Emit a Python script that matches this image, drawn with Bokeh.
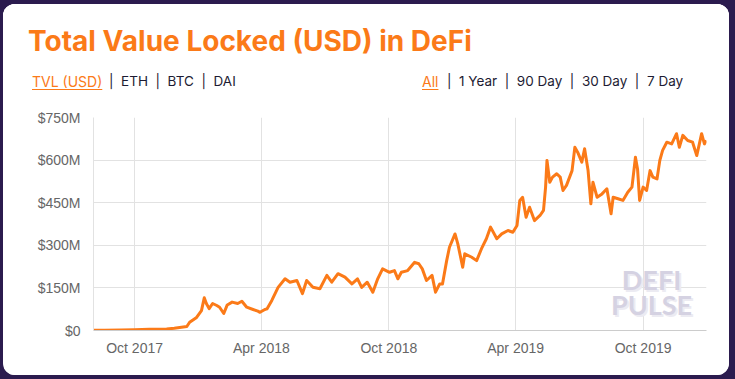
import pandas as pd
from bokeh.plotting import figure
from bokeh.layouts import column
from bokeh.models import Range1d, FixedTicker, DatetimeTickFormatter, Label, Div
from bokeh.embed import file_html
from bokeh.resources import INLINE

# ---- data ($ millions) ----
dates = [
    "2017-08-03", "2017-08-19", "2017-09-12", "2017-10-01", "2017-10-22", "2017-11-16",
    "2017-11-27", "2017-12-15", "2017-12-19", "2017-12-29", "2018-01-05", "2018-01-09",
    "2018-01-12", "2018-01-16", "2018-01-21", "2018-01-27", "2018-01-31", "2018-02-06",
    "2018-02-11", "2018-02-18", "2018-02-26", "2018-03-04", "2018-03-11", "2018-03-20",
    "2018-03-27", "2018-03-30", "2018-04-06", "2018-04-09", "2018-04-16", "2018-04-25",
    "2018-05-05", "2018-05-12", "2018-05-22", "2018-05-30", "2018-06-05", "2018-06-14",
    "2018-06-24", "2018-07-04", "2018-07-11", "2018-07-20", "2018-07-30", "2018-08-09",
    "2018-08-17", "2018-08-23", "2018-08-31", "2018-09-08", "2018-09-15", "2018-09-22",
    "2018-10-02", "2018-10-09", "2018-10-14", "2018-10-19", "2018-10-28", "2018-11-07",
    "2018-11-13", "2018-11-18", "2018-11-24", "2018-12-02", "2018-12-07", "2018-12-13",
    "2018-12-17", "2018-12-23", "2018-12-27", "2019-01-04", "2019-01-08", "2019-01-15",
    "2019-01-18", "2019-01-28", "2019-02-04", "2019-02-11", "2019-02-18", "2019-02-24",
    "2019-03-05", "2019-03-12", "2019-03-21", "2019-03-28", "2019-04-03", "2019-04-07",
    "2019-04-11", "2019-04-16", "2019-04-21", "2019-04-28", "2019-05-06", "2019-05-11",
    "2019-05-14", "2019-05-16", "2019-05-20", "2019-05-24", "2019-05-30", "2019-06-04",
    "2019-06-08", "2019-06-13", "2019-06-21", "2019-06-25", "2019-06-29", "2019-07-05",
    "2019-07-09", "2019-07-14", "2019-07-18", "2019-07-21", "2019-07-27", "2019-08-03",
    "2019-08-10", "2019-08-16", "2019-08-19", "2019-08-26", "2019-09-02", "2019-09-09",
    "2019-09-15", "2019-09-20", "2019-09-23", "2019-09-26", "2019-10-01", "2019-10-06",
    "2019-10-11", "2019-10-15", "2019-10-21", "2019-10-25", "2019-10-29", "2019-11-04",
    "2019-11-11", "2019-11-18", "2019-11-22", "2019-11-27", "2019-12-04", "2019-12-11",
    "2019-12-17", "2019-12-24", "2019-12-28", "2019-12-31",
]
tvl_musd = [
    1, 1, 2, 3, 4, 5,
    8, 14, 29, 46, 70, 115,
    95, 77, 95, 88, 82, 60,
    90, 100, 95, 103, 82, 74,
    68, 64, 74, 76, 106, 152,
    182, 170, 176, 130, 176, 152,
    147, 194, 170, 200, 188, 164,
    182, 152, 170, 135, 182, 217,
    205, 211, 182, 205, 211, 240,
    235, 217, 176, 194, 135, 164,
    164, 246, 293, 340, 305, 223,
    270, 258, 246, 288, 323, 364,
    323, 340, 352, 346, 370, 458,
    469, 399, 434, 387, 405, 423,
    505, 599, 522, 540, 552, 540,
    493, 511, 563, 645, 628, 593,
    640, 563, 446, 522, 469, 481,
    499, 411, 469, 464, 458, 487,
    505, 610, 569, 458, 505, 493,
    563, 540, 534, 599, 634, 663,
    657, 693, 645, 687, 669, 663,
    616, 693, 657, 669,
]
x_tick_dates = ["2017-10-01", "2018-04-01", "2018-10-01", "2019-04-01", "2019-10-01"]
y_ticks = [0, 150, 300, 450, 600, 750]
y_tick_labels = ["$0", "$150M", "$300M", "$450M", "$600M", "$750M"]
title_text = "Total Value Locked (USD) in DeFi"
metric_tabs = ["TVL (USD)", "ETH", "BTC", "DAI"]
period_tabs = ["All", "1 Year", "90 Day", "30 Day", "7 Day"]
watermark = ["DEFI", "PULSE"]

ORANGE = "#fb7a18"
DARK = "#1d1b33"
GREY = "#666666"
PAGE_BG = "#2b1b4e"

W = 726
HH = 100            # header height
H = 271             # chart height
BL, BR, BT, BB = 90, 23, 13, 45

# ---------------- header (title + tabs) as HTML text ----------------
def span(text, left, top, size, color, weight=400, underline=False):
    deco = "text-decoration:underline;text-underline-offset:2px;" if underline else ""
    return ('<span style="position:absolute;left:%dpx;top:%dpx;font-family:Inter;'
            'font-size:%spx;font-weight:%d;line-height:%spx;color:%s;white-space:pre;%s">%s</span>'
            % (left, top, size, weight, size, color, deco, text))


parts = [
    span(title_text, 25, 23, 28, ORANGE, weight=700),
    span(metric_tabs[0], 29, 71, 14, ORANGE, underline=True),
    span("  |  ".join(metric_tabs[1:]).join(["|  ", ""]), 106, 71, 13.5, DARK),
    span(period_tabs[0], 419, 71, 14, ORANGE, underline=True),
    span("  |  ".join(period_tabs[1:]).join(["|  ", ""]), 444, 71, 13.5, DARK),
]
header_html = ('<div style="position:relative;width:%dpx;height:%dpx;background:white;">%s</div>'
               % (W, HH, "".join(parts)))
hdr = Div(text=header_html, width=W, height=HH, styles={"background": "white", "margin": "0"})

# ---------------- chart ----------------
dt = pd.to_datetime(dates)
p = figure(width=W, height=H, x_axis_type="datetime", output_backend="svg",
           toolbar_location=None, title_location=None,
           x_range=Range1d(dt[0], dt[-1]), y_range=Range1d(y_ticks[0], y_ticks[-1]),
           min_border_left=BL, min_border_right=BR, min_border_top=BT, min_border_bottom=BB)
p.background_fill_color = "white"
p.border_fill_color = "white"
p.outline_line_color = None

p.line(dt, tvl_musd, line_color=ORANGE, line_width=3, line_join="round")

xt = [pd.Timestamp(d).value // 10**6 for d in x_tick_dates]
p.xaxis.ticker = FixedTicker(ticks=xt)
p.xaxis.formatter = DatetimeTickFormatter(months="%b %Y", days="%b %Y", years="%b %Y")
p.yaxis.ticker = FixedTicker(ticks=y_ticks)
p.yaxis.major_label_overrides = {t: l for t, l in zip(y_ticks, y_tick_labels)}
for ax in (p.xaxis[0], p.yaxis[0]):
    ax.major_tick_line_color = None
    ax.minor_tick_line_color = None
    ax.major_label_text_font = "Liberation Sans"
    ax.major_label_text_font_size = "14px"
    ax.major_label_text_color = GREY
p.xaxis.axis_line_color = "#cccccc"
p.yaxis.axis_line_color = "#e2e2e2"
p.xaxis.major_label_standoff = 3
p.yaxis.major_label_standoff = 7
p.xgrid.grid_line_color = "#e2e2e2"
p.ygrid.grid_line_color = "#e2e2e2"

FB = H - BB  # frame bottom measured from chart top


def wlab(text, x, y, color):
    # x, y: position in chart pixels from its top-left; converted to frame screen units
    p.add_layout(Label(x=x - BL, y=FB - y, x_units="screen", y_units="screen", text=text,
                       text_font="Lato", text_font_size="27px", text_color=color,
                       text_font_style="bold", text_align="center", text_baseline="alphabetic"))


for i, w in enumerate(watermark):
    wlab(w, 650, 177 + 25 * i, "#ecebf2")
    wlab(w, 648, 175 + 25 * i, "#d5d2e2")

layout = column(hdr, p, spacing=0,
                styles={"border-radius": "12px", "overflow": "hidden", "background": "white"})

html = file_html(layout, INLINE)
css = ("<style>html,body{background:%s !important;margin:0 !important;padding:0 !important;}"
       "body{padding:4px 0 0 3px !important;}</style></head>" % PAGE_BG)
html = html.replace("</head>", css, 1)
open("out.html", "w").write(html)
